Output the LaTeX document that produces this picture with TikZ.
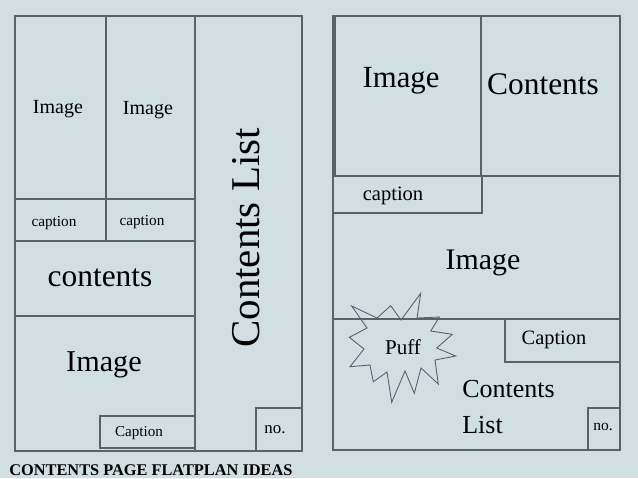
\documentclass[tikz,border=0pt]{standalone}
\usepackage{fontspec}
\setmainfont{Liberation Serif}
\usepackage{tikz}
\definecolor{paper}{RGB}{209,223,227}
\definecolor{rule}{RGB}{88,98,103}
\tikzset{
  frame/.style={draw=rule,line width=0.9pt},
  box/.style={draw=rule,line width=0.6pt},
  lbl/.style={inner sep=0pt,text=black}
}
\newcommand{\fs}[1]{\fontsize{#1}{#1}\selectfont}
\begin{document}
\begin{tikzpicture}[x=0.02cm,y=-0.02cm]
        \fill[paper] (0,0) rectangle (638,478);
        \useasboundingbox (0,0) rectangle (638,478);
        %% left page
        \draw[frame] (15,16) rectangle (302,451);
        \draw[box] (15,16) rectangle (106,199);
        \draw[box] (106,16) rectangle (195,199);
        \draw[box] (15,199) rectangle (106,241);
        \draw[box] (106,199) rectangle (195,241);
        \draw[box] (15,241) rectangle (195,316);
        \draw[box] (195,16) -- (195,451);
        \draw[box] (100,416) rectangle (195,448);
        \draw[box] (256,408) rectangle (302,451);
        \node[lbl] (imgA) at (58,109) {\fs{11.4}Image};
        \node[lbl] (imgB) at (148,110) {\fs{11.4}Image};
        \node[lbl] (capA) at (54,223) {\fs{8.7}caption};
        \node[lbl] (capB) at (142,222) {\fs{8.7}caption};
        \node[lbl] (cont) at (100,278) {\fs{17.9}contents};
        \node[lbl] (imgC) at (104,365) {\fs{17.2}Image};
        \node[lbl] (capC) at (139,433) {\fs{8.6}Caption};
        \node[lbl] (noA) at (275,430) {\fs{9.6}no.};
        \node[lbl,rotate=90] (list) at (246,238) {\fs{23.3}Contents List};
        \node[lbl,anchor=west] (title) at (9,470) {\fs{9.3}\bfseries CONTENTS PAGE FLATPLAN IDEAS};
        %% right page
        \draw[frame] (333,16) rectangle (620,450);
        \draw[box] (335,16) rectangle (481,176);
        \draw[box] (481,16) -- (481,176) -- (620,176);
        \draw[box] (333,176) rectangle (482,213);
        \draw[box] (333,319) -- (620,319);
        \draw[box] (505,319) rectangle (620,362);
        \draw[box] (588,408) rectangle (620,450);
        \node[lbl] (imgD) at (401,81) {\fs{17.5}Image};
        \node[lbl] (contB) at (543,84) {\fs{17.9}Contents};
        \node[lbl] (capD) at (393,196) {\fs{11.7}caption};
        \node[lbl] (imgE) at (483,263) {\fs{17}Image};
        \node[lbl] (capE) at (554,340) {\fs{11.6}Caption};
        \node[lbl,anchor=west,align=left] (listB) at (462,407) {\fs{14.8}Contents\\[9pt]\fs{14.8}List};
        \node[lbl] (noB) at (603,427) {\fs{8.8}no.};
        %% puff
        \draw[rule,line width=0.5pt] (351.7,306) -- (377,318) -- (390.7,305.7) -- (401,320)
          -- (420.7,293.3) -- (417,318) -- (439.3,317) -- (430.7,331) -- (452.3,334.3)
          -- (436.7,348) -- (455.7,356) -- (435,360) -- (438.3,384) -- (421,368)
          -- (414.3,393.3) -- (405,371) -- (391.7,402.3) -- (387,372) -- (373.3,381.7)
          -- (370,365) -- (350,366.7) -- (364,349) -- (349.3,337.3) -- (367,328) -- cycle;
        \node[lbl] (puff) at (403,347) {\fs{12}Puff};
    \end{tikzpicture}
\end{document}
